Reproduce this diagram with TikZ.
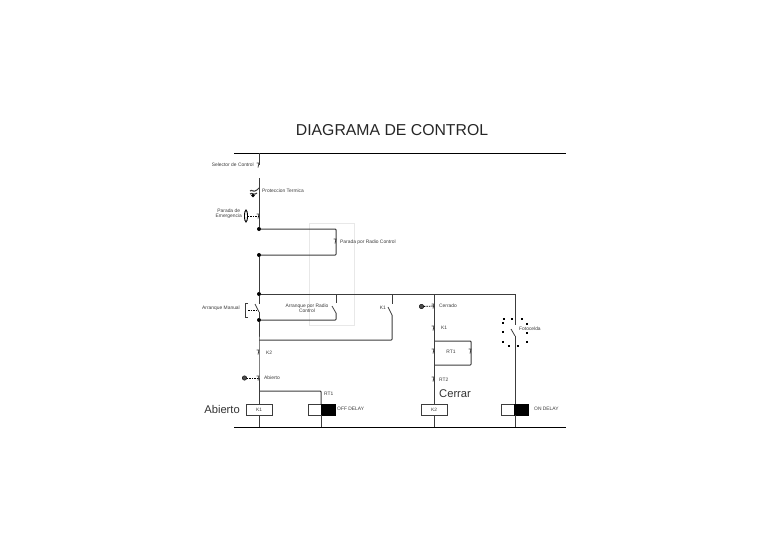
\documentclass[tikz,border=0pt]{standalone}
\usepackage{fontspec}
\setmainfont{Liberation Sans}
\usetikzlibrary{arrows, shapes.geometric}
\definecolor{wirecolor}{RGB}{60, 60, 60}
\definecolor{labelcolor}{RGB}{60, 60, 60}
\definecolor{framecolor}{RGB}{232, 232, 232}
\tikzstyle{wire} = [draw=wirecolor, line width=1pt, rounded corners=0.8pt]
\tikzstyle{rail} = [draw=black, line width=0.9pt]
\tikzstyle{tick} = [draw=wirecolor, line width=0.8pt]
\tikzstyle{linkage} = [draw=black, line width=0.8pt, dash pattern=on 1.5pt off 1pt]
\tikzstyle{relay} = [rectangle, minimum width=26pt, minimum height=11pt,
                     inner sep=0pt, draw=wirecolor, fill=white,
                     text=labelcolor, font=\fontsize{4.8}{5}\selectfont, line width=0.8pt]
\tikzstyle{timerwhite} = [rectangle, minimum width=13pt, minimum height=11pt,
                          inner sep=0pt, draw=wirecolor, fill=white, line width=0.8pt]
\tikzstyle{timerblack} = [rectangle, minimum width=14pt, minimum height=11pt,
                          inner sep=0pt, draw=black, fill=black]
\tikzstyle{tag} = [inner sep=0pt, text=labelcolor, align=center,
                   font=\fontsize{4.9}{4.6}\selectfont]
\tikzstyle{bigtag} = [inner sep=0pt, text=black!80, font=\fontsize{11.2}{13}\selectfont]
\tikzstyle{junction} = [circle, fill=black, inner sep=0pt, minimum size=4pt]
\tikzset{
  closedleft/.pic={\draw [tick] (-2.5,-2) -- (0,-2) -- (-1,2.5);}
}
\begin{document}
\begin{tikzpicture}[x=1pt, y=-1pt]
        \useasboundingbox (0,0) rectangle (768,543);

        %Title and rails
        \node (Title) [inner sep=0pt, text=black!85, font=\fontsize{15.8}{18}\selectfont] at (392,130) {DIAGRAMA DE CONTROL};
        \coordinate (TopL) at (234,153);
        \coordinate (TopR) at (566,153);
        \coordinate (BotL) at (234,427);
        \coordinate (BotR) at (566,427);
        \draw [rail] (TopL) -- (TopR);
        \draw [rail] (BotL) -- (BotR);

        %Faint frame
        \node (Frame) [draw=framecolor, line width=0.5pt, minimum width=45pt, minimum height=102pt, inner sep=0pt] at (332,274) {};

        %Junctions on the left branch
        \node (J1) [junction] at (259,229) {};
        \node (J2) [junction] at (259,255) {};
        \node (J3) [junction] at (259,294) {};
        \node (J4) [junction] at (259,320) {};

        %Left branch from the top rail
        \coordinate (T1) at (259,153);
        \coordinate (S1) at (259,165);
        \coordinate (S2) at (259,178);
        \coordinate (S3) at (259,216);
        \draw [wire] (T1) -- (S1);
        \draw [wire] (S2) -- (J1);
        \pic at (S1) {closedleft};
        \pic at (S3) {closedleft};

        %Thermal protection
        \coordinate (TH) at (253,193);
        \draw [tick, line width=1.1pt] (250,191) .. controls (252,189) and (253,193) .. (257,190);
        \draw [tick, line width=1.1pt] (250,194) .. controls (252,192) and (254,196) .. (257,193);
        \fill [black] (TH) ++(0,2.5) circle (1.8pt);
        \draw [tick] (257,190) -- (J1 |- 0,188);

        %Emergency stop
        \node (Stop) [draw=black, ellipse, fill=white, minimum width=3pt, minimum height=12pt, inner sep=0pt, line width=0.9pt] at (246,216) {};
        \draw [linkage] (Stop) -- (S3);

        %Radio stop branch
        \coordinate (R1) at (336,229);
        \coordinate (R2) at (336,241);
        \coordinate (R3) at (336,255);
        \draw [wire] (J1) -- (R1) -- (R3) -- (J2);
        \pic at (R2) {closedleft};
        \draw [wire] (J2) -- (J3);

        %Middle rail
        \coordinate (MidR) at (515,294);
        \draw [wire] (J3) -- (MidR);

        %Manual start
        \coordinate (M1) at (259,304);
        \coordinate (M2) at (259,312);
        \draw [wire] (J3) -- (M1);
        \draw [wire] (M2) -- (J4);
        \draw [tick] (M2) -- (255,304);
        \draw [linkage] (248,310.5) -- (257,310.5);
        \draw [tick] (248,303) -- (245,303) -- (245,317) -- (248,317);

        %Radio start
        \coordinate (RS1) at (336,303);
        \coordinate (RS2) at (336,313);
        \coordinate (RS3) at (336,320);
        \draw [wire] (336,294) -- (RS1);
        \draw [wire] (RS2) -- (RS3) -- (J4);
        \draw [tick] (RS2) -- (332,306);

        %K1 hold contact
        \coordinate (K1a) at (392,304);
        \coordinate (K1b) at (392,315);
        \coordinate (K1c) at (392,340);
        \coordinate (K1d) at (259,340);
        \draw [wire] (392,294) -- (K1a);
        \draw [wire] (K1b) -- (K1c) -- (K1d);
        \draw [tick] (K1b) -- (388,307);

        %Left coil column
        \node (K1) [relay] at (259,409.5) {K1};
        \coordinate (C1) at (259,352);
        \coordinate (C2) at (259,378);
        \coordinate (C3) at (259,391);
        \draw [wire] (J4) -- (C1) -- (K1);
        \draw [wire] (K1) -- (259,427);
        \pic at (C1) {closedleft};
        \pic at (C2) {closedleft};

        %Abierto push button
        \node (PB1) [circle, draw=black, fill=black!70, inner sep=0pt, minimum size=4.5pt] at (244.5,378) {};
        \draw [linkage] (PB1) -- (C2);

        %Off delay timer
        \node (TW1) [timerwhite] at (315,409.5) {};
        \node (TB1) [timerblack] at (328,409.5) {};
        \coordinate (C4) at (321,391);
        \draw [wire] (C3) -- (C4) -- (321,404);
        \draw [wire] (321,415) -- (321,427);

        %Right coil column
        \node (K2) [relay] at (434,409.5) {K2};
        \coordinate (D0) at (434,294);
        \coordinate (D1) at (434,306);
        \coordinate (D2) at (434,328);
        \coordinate (D3) at (434,341);
        \coordinate (D4) at (434,351);
        \coordinate (D5) at (434,365);
        \coordinate (D6) at (434,379);
        \coordinate (D7) at (471,341);
        \coordinate (D8) at (471,351);
        \coordinate (D9) at (471,365);
        \draw [wire] (D0) -- (K2);
        \draw [wire] (K2) -- (434,427);
        \draw [wire] (D3) -- (D7) -- (D9) -- (D5);
        \pic at (D1) {closedleft};
        \pic at (D2) {closedleft};
        \pic at (D4) {closedleft};
        \pic at (D6) {closedleft};
        \pic at (D8) {closedleft};

        %Cerrado push button
        \node (PB2) [circle, draw=black, fill=black!70, inner sep=0pt, minimum size=4.5pt] at (421.5,306.5) {};
        \draw [linkage] (PB2) -- (D1);

        %On delay column with photocell
        \node (TW2) [timerwhite] at (507.5,409.5) {};
        \node (TB2) [timerblack] at (521,409.5) {};
        \coordinate (F1) at (515,325);
        \coordinate (F2) at (515,336);
        \draw [wire] (MidR) -- (F1);
        \draw [wire] (F2) -- (515,404);
        \draw [wire] (515,415) -- (515,427);
        \draw [tick] (F2) -- (511,329);
        \foreach \dx/\dy in {503/323, 503/332, 503/342, 527/324, 527/333, 527/342}
            \draw [black, line width=1.2pt] (\dx,\dy-1.2) -- (\dx,\dy+1.2);
        \foreach \dx/\dy in {504/319, 512/319, 522/319, 509/346, 518/346}
            \draw [black, line width=1.2pt] (\dx-1.2,\dy) -- (\dx+1.2,\dy);

        %Labels
        \node (L1) [tag, anchor=east] at (254,165) {Selector de Control};
        \node (L2) [tag, anchor=west] at (262,190.5) {Proteccion Termica};
        \node (L3) [tag, anchor=east] at (242,214) {Parada de\\Emergencia};
        \node (L4) [tag, anchor=west] at (340,242) {Parada por Radio Control};
        \node (L5) [tag, anchor=east] at (240,308) {Arranque Manual};
        \node (L6) [tag] at (307,308.5) {Arranque por Radio\\Control};
        \node (L7) [tag, anchor=east] at (386,308) {K1};
        \node (L8) [tag, anchor=west] at (266,352.5) {K2};
        \node (L9) [tag, anchor=west] at (264,377.5) {Abierto};
        \node (L10) [tag, anchor=west] at (324,394) {RT1};
        \node (L11) [tag, anchor=west] at (337,409) {OFF DELAY};
        \node (L12) [bigtag, anchor=east] at (240,409) {Abierto};
        \node (L13) [tag, anchor=west] at (439,306) {Cerrado};
        \node (L14) [tag, anchor=west] at (441,328) {K1};
        \node (L15) [tag] at (451,352) {RT1};
        \node (L16) [tag, anchor=west] at (439,379.5) {RT2};
        \node (L17) [bigtag, anchor=west] at (439,394) {Cerrar};
        \node (L18) [tag, anchor=west] at (519,329) {Fotocelda};
        \node (L19) [tag, anchor=west] at (534,409) {ON DELAY};

    \end{tikzpicture}
\end{document}
